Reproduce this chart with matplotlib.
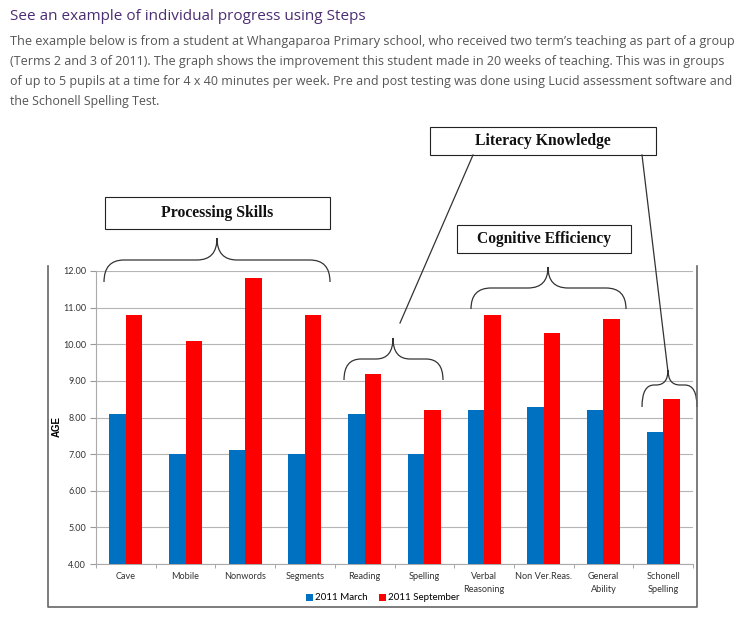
import matplotlib
matplotlib.use('Agg')
import matplotlib.pyplot as plt
import numpy as np
from matplotlib.path import Path
from matplotlib.patches import PathPatch, Rectangle

categories = ['Cave', 'Mobile', 'Nonwords', 'Segments', 'Reading', 'Spelling',
              'Verbal\nReasoning', 'Non Ver.Reas.', 'General\nAbility', 'Schonell\nSpelling']
march = [8.1, 7.0, 7.1, 7.0, 8.1, 7.0, 8.2, 8.3, 8.2, 7.6]
september = [10.8, 10.1, 11.8, 10.8, 9.2, 8.2, 10.8, 10.3, 10.7, 8.5]
series_names = ['2011 March', '2011 September']
yticks = np.arange(4, 13, 1)

heading = 'See an example of individual progress using Steps'
body = ["The example below is from a student at Whangaparoa Primary school, who received two term\u2019s teaching as part of a group",
        "(Terms 2 and 3 of 2011). The graph shows the improvement this student made in 20 weeks of teaching. This was in groups",
        "of up to 5 pupils at a time for 4 x 40 minutes per week. Pre and post testing was done using Lucid assessment software and",
        "the Schonell Spelling Test."]
body_widths = [717, 713, 716, 150]

W, H = 743, 626
fig = plt.figure(figsize=(W / 100, H / 100), dpi=100)
renderer = fig.canvas.get_renderer()

# chart axes, placed in pixel terms
x0, x1, ytop, ybot = 96, 693, 271, 564
ax = fig.add_axes([x0 / W, 1 - ybot / H, (x1 - x0) / W, (ybot - ytop) / H])
idx = np.arange(len(categories))
bw = 0.277
ax.bar(idx - bw / 2, march, bw, color='#0070C0', label=series_names[0], zorder=3)
ax.bar(idx + bw / 2, september, bw, color='#FF0000', label=series_names[1], zorder=3)
ax.set_xlim(-0.5, len(categories) - 0.5)
ax.set_ylim(4, 12)
ax.set_yticks(yticks)
ax.set_yticklabels(['%.2f' % v for v in yticks], fontsize=6.5, family='Lato', color='#333333')
ax.yaxis.grid(True, color='#b5b5b5', lw=0.8, zorder=0)
ax.set_xticks(idx)
ax.set_xticklabels(categories, fontsize=6.6, family='Lato', color='#333333', linespacing=1.5)
ax.set_xticks(np.arange(-0.5, len(categories)), minor=True)
ax.tick_params(axis='x', which='major', length=0, pad=6)
ax.tick_params(axis='x', which='minor', length=3, color='#999999')
ax.tick_params(axis='y', length=4, color='#999999', pad=3)
for s in ['top', 'right']:
    ax.spines[s].set_visible(False)
for s in ['left', 'bottom']:
    ax.spines[s].set_color('#aaaaaa')
    ax.spines[s].set_linewidth(0.8)
ax.set_ylabel('AGE', fontsize=7, fontweight='bold', family='Liberation Sans')
ax.yaxis.set_label_coords((62 - x0) / (x1 - x0), 0.47)
leg = ax.legend(loc='center', bbox_to_anchor=(383 / W, 1 - 598 / H), bbox_transform=fig.transFigure,
                ncol=2, frameon=False, prop={'family': 'Lato', 'size': 7},
                handlelength=0.7, handleheight=0.7, handletextpad=0.2, columnspacing=1.2)

# overlay in page pixels for text, boxes, braces
ov = fig.add_axes([0, 0, 1, 1], zorder=5)
ov.set_xlim(0, W)
ov.set_ylim(H, 0)
ov.axis('off')
ov.patch.set_alpha(0)


def fit_text(x, y, s, width, **kw):
    t = ov.text(x, y, s, fontsize=10, **kw)
    w = t.get_window_extent(renderer).width
    t.set_fontsize(10 * width / w)
    return t


fit_text(10, 16, heading, 355, color='#4b2d73', family='Open Sans', va='center')
for i, (line, bwid) in enumerate(zip(body, body_widths)):
    fit_text(10, 41 + 20 * i, line, bwid, color='#555555', family='Open Sans', va='center')

# chart image border
ov.plot([48, 48, 697, 697], [266, 607, 607, 266], color='#666666', lw=1.2)


def box(xa, xb, ya, yb, label, width):
    ov.add_patch(Rectangle((xa, ya), xb - xa, yb - ya, fill=True, fc='white', ec='#222222', lw=0.8))
    fit_text((xa + xb) / 2, (ya + yb) / 2, label, width, family='Liberation Serif',
             fontweight='bold', ha='center', va='center', color='#111111')


def brace(xa, xb, xc, yb, ym, yt, r):
    verts = [(xa, yb), (xa, ym), (xa + r, ym), (xc - r, ym), (xc, ym), (xc, yt),
             (xc, ym), (xc + r, ym), (xb - r, ym), (xb, ym), (xb, yb)]
    codes = [Path.MOVETO, Path.CURVE3, Path.CURVE3, Path.LINETO, Path.CURVE3, Path.CURVE3,
             Path.CURVE3, Path.CURVE3, Path.LINETO, Path.CURVE3, Path.CURVE3]
    ov.add_patch(PathPatch(Path(verts, codes), fill=False, ec='#333333', lw=0.9))


box(430, 656, 127, 155, 'Literacy Knowledge', 136)
box(105, 330, 197, 229, 'Processing Skills', 112)
box(457, 631, 225, 253, 'Cognitive Efficiency', 135)

brace(104, 330, 217, 282, 260, 238, 20)
brace(344, 443, 393, 380, 359, 338, 17)
brace(471, 626, 548, 309, 288, 267, 20)
brace(642, 697, 668, 407, 385, 370, 12)

ov.plot([473, 400], [155, 323], color='#333333', lw=0.9)
ov.plot([642, 668], [155, 372], color='#333333', lw=0.9)

fig.savefig('out.png', dpi=100)
